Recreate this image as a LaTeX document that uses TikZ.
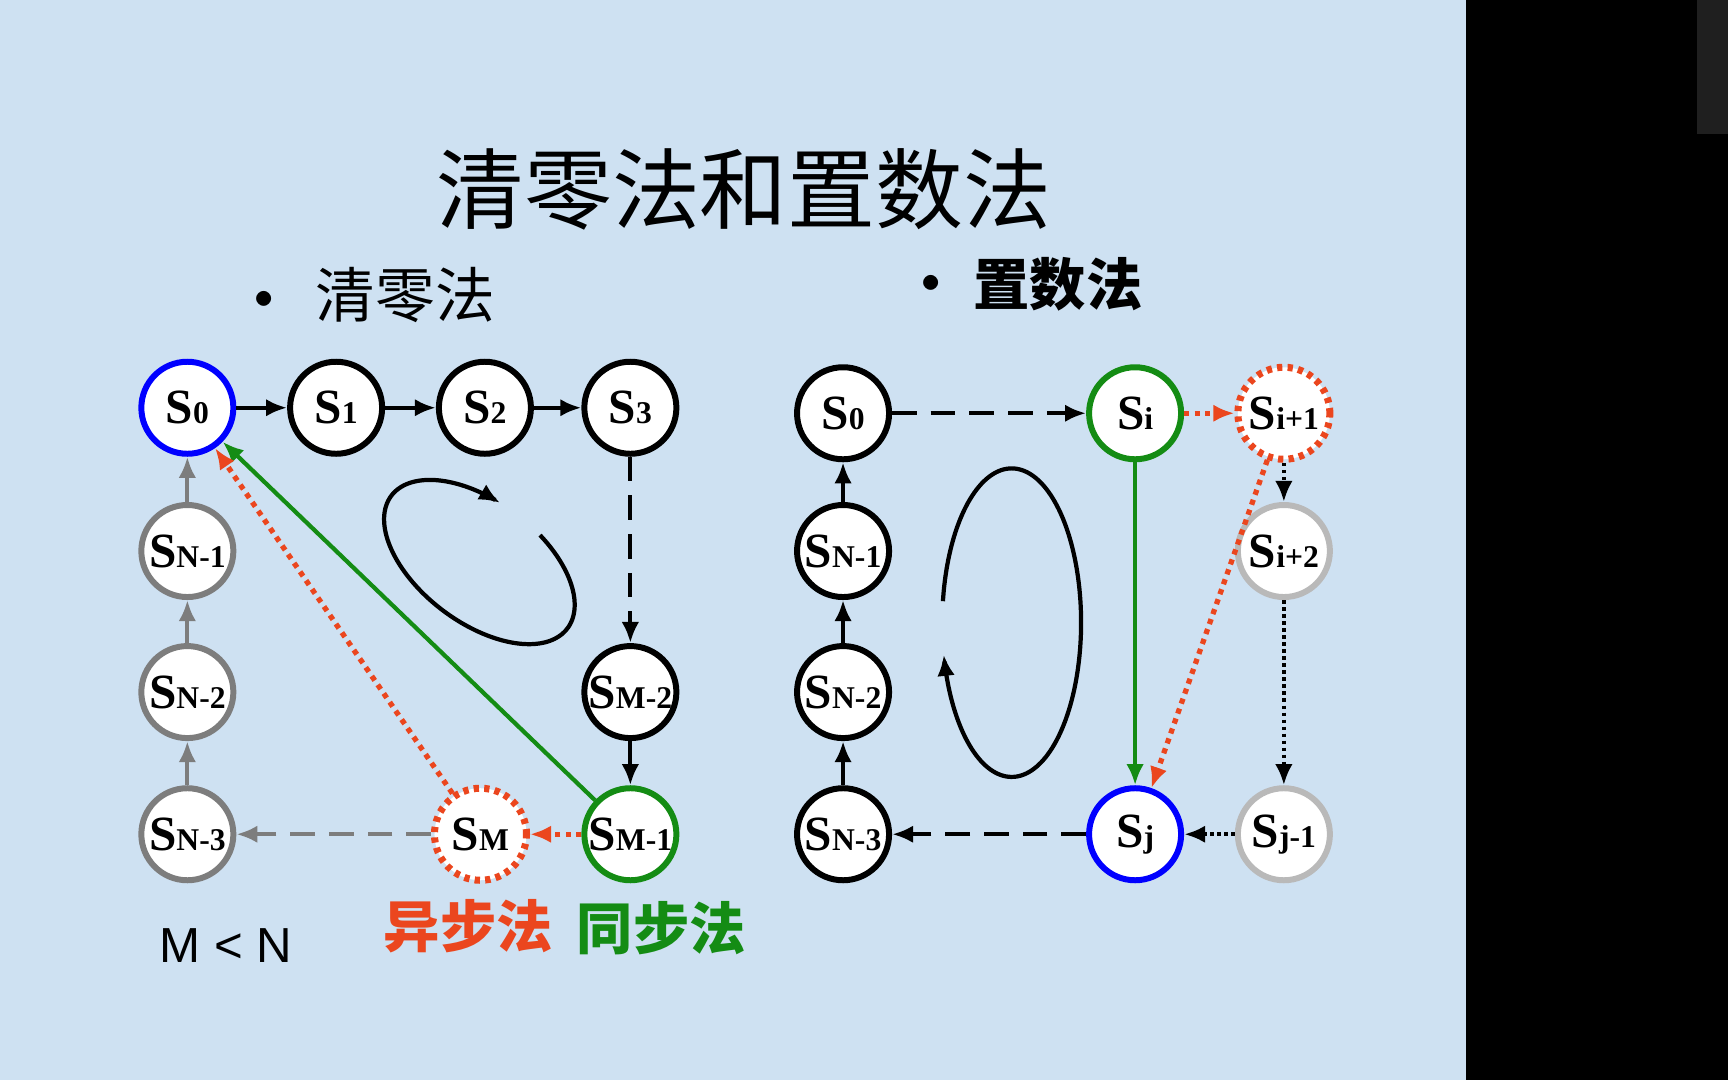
\documentclass[tikz,border=0pt]{standalone}
\usepackage{fontspec}
\setmainfont{Liberation Serif}
\newfontfamily\cjk{Noto Sans CJK SC}
\newfontfamily\arialf{Liberation Sans}
\usetikzlibrary{arrows.meta}
\definecolor{bgblue}{RGB}{206,225,242}
\definecolor{redst}{RGB}{235,70,30}
\definecolor{greenst}{RGB}{20,140,20}
\definecolor{greyst}{RGB}{125,125,125}
\definecolor{lgreyst}{RGB}{185,185,185}

\begin{document}
\begin{tikzpicture}[x=0.01102cm,y=-0.01102cm,
  st/.style={circle,draw,line width=1.7pt,fill=white,minimum size=0.92cm,inner sep=0pt,font=\fontsize{14}{14}\selectfont\bfseries},
  ed/.style={-{Latex[length=6pt,width=5pt]},line width=1.2pt},
  dot/.style={dash pattern=on 1.5pt off 1.5pt},
  dsh/.style={dash pattern=on 7pt off 4pt}]
\fill [bgblue] (0,0) rectangle (1330,980);
\fill [black] (1330,0) rectangle (1568,980);
\fill [black!88] (1540,0) rectangle (1568,122);
\useasboundingbox (0,0) rectangle (1568,980);

\node at (675,172) {\cjk\fontsize{25}{25}\selectfont 清零法和置数法};
\node at (240,272) {\fontsize{11}{11}\selectfont$\bullet$};
\node at (368,268) {\cjk\fontsize{17}{17}\selectfont 清零法};
\node at (845,258) {\fontsize{11}{11}\selectfont$\bullet$};
\node at (960,258) {\cjk\bfseries\fontsize{16}{16}\selectfont 置数法};
\node [redst] at (425,840) {\cjk\bfseries\fontsize{16}{16}\selectfont 异步法};
\node [greenst] at (600,842) {\cjk\bfseries\fontsize{16}{16}\selectfont 同步法};
\node at (205,858) {\arialf\fontsize{14}{14}\selectfont M < N};

% clear method
\node [st,draw=blue] (a0) at (170,370) {S{\small 0}};
\node [st] (a1) at (305,370) {S{\small 1}};
\node [st] (a2) at (440,370) {S{\small 2}};
\node [st] (a3) at (572,370) {S{\small 3}};
\node [st,draw=greyst] (an1) at (170,500) {S{\small N-1}};
\node [st,draw=greyst] (an2) at (170,628) {S{\small N-2}};
\node [st,draw=greyst] (an3) at (170,757) {S{\small N-3}};
\node [st] (am2) at (572,628) {S{\small M-2}};
\node [st,draw=greenst] (am1) at (572,757) {S{\small M-1}};
\node [st,draw=redst,dot,line width=2pt] (am) at (436,757) {S{\small M}};

\draw [ed] (a0)--(a1);
\draw [ed] (a1)--(a2);
\draw [ed] (a2)--(a3);
\draw [ed,dsh] (a3)--(am2);
\draw [ed] (am2)--(am1);
\draw [ed,greenst] (am1)--(a0);
\draw [ed,redst,dot,line width=1.5pt] (am1)--(am);
\draw [ed,redst,dot,line width=1.5pt] (am)--(a0);
\draw [ed,greyst,dsh] (am)--(an3);
\draw [ed,greyst] (an3)--(an2);
\draw [ed,greyst] (an2)--(an1);
\draw [ed,greyst] (an1)--(a0);
\draw [ed,domain=287:620,samples=80,smooth,variable=\t]
  plot ({435+100*cos(\t)*0.799-55*sin(\t)*0.602},{510+100*cos(\t)*0.602+55*sin(\t)*0.799});

% preset method
\node [st] (b0) at (765,375) {S{\small 0}};
\node [st,draw=greenst] (bi) at (1030,375) {S{\small i}};
\node [st,draw=redst,dot,line width=2pt] (bi1) at (1165,375) {S{\small i+1}};
\node [st,draw=lgreyst] (bi2) at (1165,500) {S{\small i+2}};
\node [st,draw=lgreyst] (bj1) at (1165,757) {S{\small j-1}};
\node [st,draw=blue] (bj) at (1030,757) {S{\small j}};
\node [st] (bn1) at (765,500) {S{\small N-1}};
\node [st] (bn2) at (765,628) {S{\small N-2}};
\node [st] (bn3) at (765,757) {S{\small N-3}};

\draw [ed,dsh] (b0)--(bi);
\draw [ed,greenst] (bi)--(bj);
\draw [ed,redst,dot,line width=1.5pt] (bi)--(bi1);
\draw [ed,redst,dot,line width=1.5pt] (bi1)--(bj);
\draw [ed,dash pattern=on 1pt off 1pt] (bi1)--(bi2);
\draw [ed,dash pattern=on 1pt off 1pt] (bi2)--(bj1);
\draw [ed,dash pattern=on 1pt off 1pt] (bj1)--(bj);
\draw [ed,dsh] (bj)--(bn3);
\draw [ed] (bn3)--(bn2);
\draw [ed] (bn2)--(bn1);
\draw [ed] (bn1)--(b0);
\draw [ed,domain=188:528,samples=80,smooth,variable=\t]
  plot ({918+63*cos(\t)},{565+140*sin(\t)});
\end{tikzpicture}
\end{document}
